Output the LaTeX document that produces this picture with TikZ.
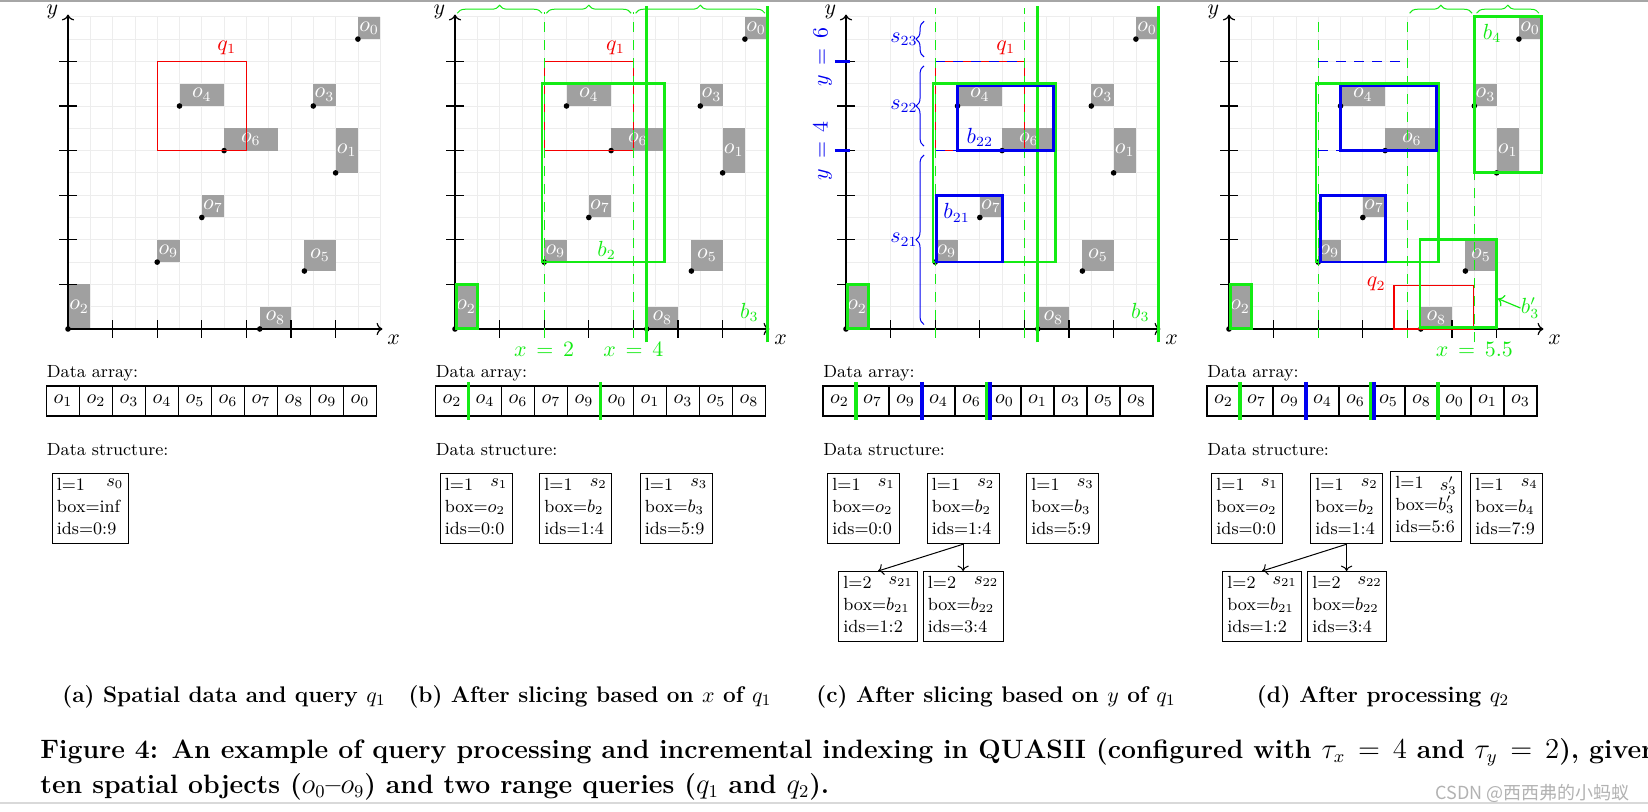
\documentclass[tikz,border=0pt]{standalone}
\usepackage{fontspec}
\newfontfamily\cjk{Noto Sans CJK SC}
\usetikzlibrary{calc,decorations.pathreplacing,arrows.meta}
\definecolor{gG}{RGB}{20,235,20}
\definecolor{bB}{RGB}{0,0,240}
\definecolor{rR}{RGB}{245,0,0}
\definecolor{objg}{RGB}{160,160,160}
\newcommand\obj[6]{%
  \fill[objg] (#2,#3) rectangle (#4,#5);
  \node[objlab] (#1) at ($(#2,#3)!0.5!(#4,#5)$) {$o_{#6}$};
  \fill (#2,#3) circle (1.4pt);}
\newcommand\panelbase[1]{%
  \draw[gridc] (0,0) grid[step=0.5] (7,7);
  \obj{#1o0}{6.5}{6.5}{7}{7}{0}
  \obj{#1o1}{6}{3.5}{6.5}{4.5}{1}
  \obj{#1o2}{0}{0}{0.5}{1}{2}
  \obj{#1o3}{5.5}{5}{6}{5.5}{3}
  \obj{#1o4}{2.5}{5}{3.5}{5.5}{4}
  \obj{#1o5}{5.3}{1.3}{6}{2}{5}
  \obj{#1o6}{3.5}{4}{4.7}{4.5}{6}
  \obj{#1o7}{3}{2.5}{3.5}{3}{7}
  \obj{#1o8}{4.3}{0}{5}{0.5}{8}
  \obj{#1o9}{2}{1.5}{2.5}{2}{9}
  \draw[axis,->] (0,0) -- (7.05,0);
  \draw[axis,->] (0,0) -- (0,7.05);
  \node[axlab] (#1xl) at (7.3,-0.25) {$x$};
  \node[axlab] (#1yl) at (-0.35,7.1) {$y$};
  \foreach \t in {1,...,6} {\draw[axis] (\t,-0.2) -- (\t,0.2); \draw[axis] (-0.2,\t) -- (0.2,\t);}
}
\newcommand\darray[4]{% prefix, x, list, dummy
  \foreach \lab [count=\i] in {#3} {
    \node[cell] (#1\i) at ({#2+16.5+33*(\i-1)},401) {$o_{\lab}$};}
}
\newcommand\snode[8]{%
  \node[sbox, minimum width=#4, anchor=north west] (#1) at (#2,#3) {};
  \node[stext, anchor=north west] at (#1.north west) {l=#5\\box=#7\\ids=#8};
  \node[stext, anchor=north east] at (#1.north east) {$#6$};}
\begin{document}
\begin{tikzpicture}[x=0.5pt,y=-0.5pt,
  gridc/.style={gray!14,line width=0.4pt},
  axis/.style={black,line width=0.6pt},
  axlab/.style={font=\fontsize{10.5}{12}\selectfont,inner sep=0pt},
  objlab/.style={text=white,font=\fontsize{10.5}{12}\selectfont,inner sep=0pt},
  gbox/.style={gG,line width=1.4pt},
  bbox/.style={bB,line width=1.4pt},
  qbox/.style={rR,line width=0.6pt},
  gdash/.style={gG,dash pattern=on 5pt off 4pt,line width=0.7pt},
  bdash/.style={bB,dash pattern=on 5pt off 4pt,line width=0.8pt},
  gsolid/.style={gG,line width=1.3pt},
  glab/.style={gG,font=\fontsize{10.5}{12}\selectfont,inner sep=0pt},
  blab/.style={bB,font=\fontsize{10.5}{12}\selectfont,inner sep=0pt},
  rlab/.style={rR,font=\fontsize{10.5}{12}\selectfont,inner sep=0pt},
  brc/.style={decorate,decoration={brace,amplitude=4pt},line width=0.5pt},
  cell/.style={draw,line width=0.6pt,minimum width=16.5pt,minimum height=15pt,inner sep=0pt,font=\fontsize{10}{11}\selectfont},
  sepg/.style={gG,line width=1.8pt},
  sepb/.style={bB,line width=1.8pt},
  sbox/.style={draw,line width=0.6pt,minimum height=35pt,inner sep=0pt},
  stext/.style={align=left,inner sep=2.5pt,font=\fontsize{8.8}{11}\selectfont},
  ttl/.style={anchor=west,inner sep=0pt,font=\fontsize{8.8}{10}\selectfont},
  captxt/.style={font=\fontsize{11.3}{13}\selectfont\bfseries,inner sep=0pt},
  arr/.style={->,line width=0.5pt}]
\useasboundingbox (0,0) rectangle (1648,812);
\draw[gray!70,line width=1pt] (0,1) -- (1648,1);
\draw[gray!30,line width=1pt] (0,803) -- (1648,803);

% ---------- panel a
\begin{scope}[shift={(68,329)},x=22.3pt,y=22.3pt]
\panelbase{a}
\draw[qbox] (2,4) rectangle (4,6);
\node[rlab] (aq1) at (3.56,6.3) {$q_1$};
\end{scope}

% ---------- panel b
\begin{scope}[shift={(455,329)},x=22.3pt,y=22.3pt]
\panelbase{b}
\draw[qbox] (2,4) rectangle (4,6);
\node[rlab] (bq1) at (3.6,6.3) {$q_1$};
\draw[gdash] (2,-0.2) -- (2,7.1);
\draw[gdash] (4,-0.2) -- (4,7.1);
\draw[gsolid] (4.3,-0.3) -- (4.3,7.25);
\draw[gsolid] (7.0,-0.3) -- (7.0,7.25);
\draw[gbox] (1.95,1.5) rectangle (4.7,5.5);
\draw[gbox] (0.03,0.02) rectangle (0.5,1);
\node[glab] (bb2) at (3.4,1.77) {$b_2$};
\node[glab] (bb3) at (6.6,0.37) {$b_3$};
\node[glab] (bx2) at (2,-0.45) {$x\,=\,2$};
\node[glab] (bx4) at (4,-0.45) {$x\,=\,4$};
\draw[gG,brc] (0.05,7.08) -- (1.95,7.08);
\draw[gG,brc] (2.05,7.08) -- (3.95,7.08);
\draw[gG,brc] (4.05,7.08) -- (6.95,7.08);
\end{scope}

% ---------- panel c
\begin{scope}[shift={(846,329)},x=22.3pt,y=22.3pt]
\panelbase{c}
\draw[qbox] (2,4) rectangle (4,6);
\draw[bdash] (2,6) -- (4,6);
\draw[bdash] (2,4) -- (4,4);
\node[rlab] (cq1) at (3.58,6.3) {$q_1$};
\draw[gdash] (2,-0.2) -- (2,7.2);
\draw[gdash] (4,-0.2) -- (4,7.2);
\draw[gsolid] (4.3,-0.3) -- (4.3,7.25);
\draw[gsolid] (7.0,-0.3) -- (7.0,7.25);
\draw[gbox] (1.95,1.5) rectangle (4.7,5.5);
\draw[gbox] (0.03,0.02) rectangle (0.5,1);
\draw[bbox] (2.5,4) rectangle (4.65,5.45);
\draw[bbox] (2.03,1.5) rectangle (3.5,3.0);
\node[blab] (cb22) at (3.0,4.3) {$b_{22}$};
\node[blab] (cb21) at (2.48,2.6) {$b_{21}$};
\node[glab] (cb3) at (6.6,0.37) {$b_3$};
\draw[bB,line width=1.6pt] (-0.25,4) -- (0.1,4);
\draw[bB,line width=1.6pt] (-0.25,6) -- (0.1,6);
\node[blab,rotate=90] (cy4) at (-0.52,4.0) {$y\,=\,4$};
\node[blab,rotate=90] (cy6) at (-0.52,6.1) {$y\,=\,6$};
\draw[bB,brc] (1.75,6.1) -- (1.75,6.9);
\draw[bB,brc] (1.75,4.1) -- (1.75,5.9);
\draw[bB,brc] (1.75,0.1) -- (1.75,3.9);
\node[blab] (cs23) at (1.3,6.5) {$s_{23}$};
\node[blab] (cs22) at (1.3,5.0) {$s_{22}$};
\node[blab] (cs21) at (1.3,2.0) {$s_{21}$};
\end{scope}

% ---------- panel d
\begin{scope}[shift={(1229,329)},x=22.3pt,y=22.3pt]
\panelbase{d}
\draw[gdash] (2,-0.2) -- (2,7.0);
\draw[gdash] (4,-0.2) -- (4,7.0);
\draw[gdash] (5.5,-0.3) -- (5.5,7.0);
\draw[bdash] (2,6) -- (4,6);
\draw[bdash] (2,4) -- (4,4);
\draw[gbox] (1.95,1.5) rectangle (4.7,5.5);
\draw[gbox] (0.03,0.02) rectangle (0.5,1);
\draw[bbox] (2.5,4) rectangle (4.65,5.45);
\draw[bbox] (2.05,1.5) rectangle (3.5,3.0);
\draw[qbox] (3.7,0) rectangle (5.48,0.97);
\node[rlab] (dq2) at (3.3,1.0) {$q_2$};
\draw[gbox] (4.28,0.03) rectangle (6.0,2.0);
\draw[gbox] (5.5,3.5) rectangle (7.0,7.0);
\node[glab] (db4) at (5.9,6.63) {$b_4$};
\node[glab] (db3p) at (6.75,0.47) {$b_3'$};
\draw[gG,->,line width=0.6pt] (db3p.west) -- (6.03,0.68);
\node[glab] (dx55) at (5.5,-0.45) {$x\,=\,5.5$};
\draw[gG,brc] (4.05,7.08) -- (5.45,7.08);
\draw[gG,brc] (5.55,7.08) -- (6.95,7.08);
\end{scope}

% ---------- data arrays
\node[ttl] (ta) at (46.5,373) {Data array:};
\node[ttl] (tb) at (435.5,373) {Data array:};
\node[ttl] (tc) at (823,373) {Data array:};
\node[ttl] (td) at (1207,373) {Data array:};
\darray{aa}{46.5}{1,2,3,4,5,6,7,8,9,0}{}
\darray{ba}{435.5}{2,4,6,7,9,0,1,3,5,8}{}
\darray{ca}{823}{2,7,9,4,6,0,1,3,5,8}{}
\darray{da}{1207}{2,7,9,4,6,5,8,0,1,3}{}
\draw[sepg] (468.5,382) -- (468.5,420);
\draw[sepg] (600.5,382) -- (600.5,420);
\draw[sepg] (856,382) -- (856,420);
\draw[sepb] (922,382) -- (922,420);
\draw[sepg] (986.5,382) -- (986.5,420);
\draw[sepb] (990,382) -- (990,420);
\draw[sepg] (1240,382) -- (1240,420);
\draw[sepb] (1306,382) -- (1306,420);
\draw[sepg] (1370.5,382) -- (1370.5,420);
\draw[sepb] (1374,382) -- (1374,420);
\draw[sepg] (1438,382) -- (1438,420);

% ---------- data structures
\node[ttl] (sa) at (46.5,450) {Data structure:};
\node[ttl] (sb) at (435.5,450) {Data structure:};
\node[ttl] (sc) at (823,450) {Data structure:};
\node[ttl] (sd) at (1207,450) {Data structure:};
\snode{as0}{51.5}{473}{38pt}{1}{s_0}{inf}{0:9}
\snode{bs1}{439.5}{473}{36pt}{1}{s_1}{$o_2$}{0:0}
\snode{bs2}{539}{473}{36pt}{1}{s_2}{$b_2$}{1:4}
\snode{bs3}{639.5}{473}{36pt}{1}{s_3}{$b_3$}{5:9}
\snode{cs1}{827}{473}{36pt}{1}{s_1}{$o_2$}{0:0}
\snode{cs2}{926.5}{473}{36pt}{1}{s_2}{$b_2$}{1:4}
\snode{cs3}{1026}{473}{36pt}{1}{s_3}{$b_3$}{5:9}
\snode{cs21}{838}{571}{39.5pt}{2}{s_{21}}{$b_{21}$}{1:2}
\snode{cs22}{922.5}{571}{40pt}{2}{s_{22}}{$b_{22}$}{3:4}
\draw[arr] (cs2.south) -- (cs21.north);
\draw[arr] (cs2.south) -- (cs2.south |- cs22.north);
\snode{ds1}{1211}{473}{35.5pt}{1}{s_1}{$o_2$}{0:0}
\snode{ds2}{1310}{473}{36pt}{1}{s_2}{$b_2$}{1:4}
\snode{ds3}{1390}{471}{35.5pt}{1}{s_3'}{$b_3'$}{5:6}
\snode{ds4}{1470}{473}{36pt}{1}{s_4}{$b_4$}{7:9}
\snode{ds21}{1222}{571}{39.5pt}{2}{s_{21}}{$b_{21}$}{1:2}
\snode{ds22}{1307}{571}{39.5pt}{2}{s_{22}}{$b_{22}$}{3:4}
\draw[arr] (ds2.south) -- (ds21.north);
\draw[arr] (ds2.south) -- (ds2.south |- ds22.north);

% ---------- captions
\node[captxt] (ca) at (224,697) {(a) Spatial data and query $q_1$};
\node[captxt] (cb) at (590,697) {(b)\ After slicing based on $x$ of $q_1$};
\node[captxt] (cc) at (996,697) {(c)\ After slicing based on $y$ of $q_1$};
\node[captxt] (cd) at (1383,697) {(d)\ After processing $q_2$};
\node[anchor=north west,align=left,inner sep=0pt,font=\fontsize{13.3}{17.5}\selectfont\bfseries] (fig) at (40,738)
 {Figure 4: An example of query processing and incremental indexing in QUASII (configured with $\tau_x\,=\,4$ and $\tau_y\,=\,2$), given\\
  ten spatial objects ($o_0$--$o_9$) and two range queries ($q_1$ and $q_2$).};
\node[anchor=east,inner sep=0pt,text=gray!60,font=\fontsize{9}{11}\cjk] (wm) at (1630,793) {CSDN @西西弗的小蚂蚁};
\end{tikzpicture}
\end{document}
